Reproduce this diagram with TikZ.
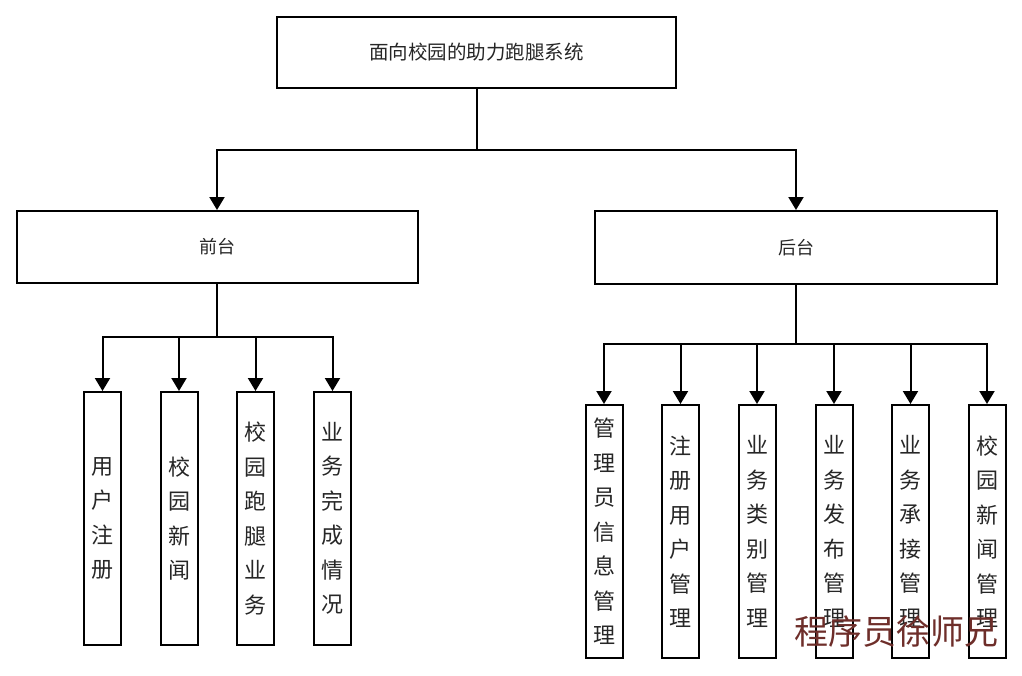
\documentclass[tikz,border=0pt]{standalone}
\usepackage{fontspec}
\setmainfont{Noto Sans CJK SC}
\usetikzlibrary{arrows.meta}
\definecolor{txtgray}{HTML}{262626}
\definecolor{markred}{HTML}{6E2E2A}
\begin{document}
\begin{tikzpicture}[x=1pt,y=-1pt]
	\tikzset{box/.style={draw,line width=2pt,inner sep=0pt,text=txtgray,font=\fontsize{18}{20}\selectfont},
		vbox/.style={box,minimum width=37pt,minimum height=253pt,align=center,font=\fontsize{22}{34.5}\selectfont},
		link/.style={line width=2pt},
		arr/.style={link,-{Triangle[width=15pt,length=13pt]}}}
	\useasboundingbox (0,0) rectangle (1022,675);
	\node[box,minimum width=399pt,minimum height=71pt,font=\fontsize{19.5}{22}\selectfont] (top) at (476.5,52.5) {面向校园的助力跑腿系统};
	\node[box,minimum width=401pt,minimum height=72pt] (front) at (217,247) {前台};
	\node[box,minimum width=402pt,minimum height=73pt] (back) at (796,247.5) {后台};
	\coordinate (j0) at (476.5,150);
	\draw[link] (top.south) -- (j0);
	\draw[arr] (j0) -| (front.north);
	\draw[arr] (j0) -| (back.north);
	% front side
	\coordinate (j1) at (217,337);
	\draw[link] (front.south) -- (j1);
	\foreach \i/\x/\lab in {1/102.5/{用\\户\\注\\册}, 2/179/{校\\园\\新\\闻}, 3/255.5/{校\\园\\跑\\腿\\业\\务}, 4/332.5/{业\\务\\完\\成\\情\\况}}{
		\node[vbox] (f\i) at (\x,518.5) {\lab};
		\draw[arr] (j1) -| (f\i.north);
	}
	% back side
	\coordinate (j2) at (796,344);
	\draw[link] (back.south) -- (j2);
	\foreach \i/\x/\lab in {1/604/{管\\理\\员\\信\\息\\管\\理}, 2/680.5/{注\\册\\用\\户\\管\\理}, 3/757/{业\\务\\类\\别\\管\\理}, 4/834/{业\\务\\发\\布\\管\\理}, 5/910.5/{业\\务\\承\\接\\管\\理}, 6/987/{校\\园\\新\\闻\\管\\理}}{
		\node[vbox] (b\i) at (\x,531.5) {\lab};
		\draw[arr] (j2) -| (b\i.north);
	}
	\node[text=markred,font=\fontsize{34}{36}\selectfont] (mark) at (896,632) {程序员徐师兄};
\end{tikzpicture}
\end{document}
